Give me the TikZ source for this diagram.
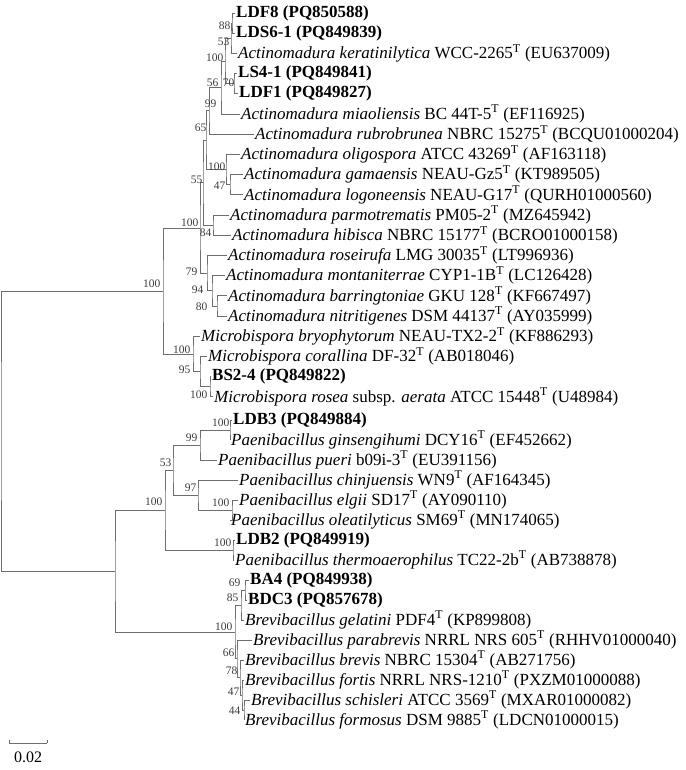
\documentclass[tikz,border=0pt]{standalone}
\usepackage{fontspec}
\setmainfont{Liberation Serif}
\newcommand\Ty{\textsuperscript{T}}
\begin{document}
\begin{tikzpicture}[x=1pt,y=-1pt,
  br/.style={draw={rgb,255:red,110;green,110;blue,110},line width=0.8pt},
  leaf/.style={anchor=west,inner sep=1pt,font=\fontsize{17}{19}\selectfont},
  lab/.style={anchor=east,inner sep=0.5pt,font=\fontsize{11.5}{13}\selectfont,text={rgb,255:red,60;green,60;blue,60}}]
\useasboundingbox (0,0) rectangle (685,770);
% top leaves
\foreach \n/\x/\y/\t in {
 1/235/13/{\textbf{LDF8 (PQ850588)}},
 2/235/33.2/{\textbf{LDS6-1 (PQ849839)}},
 3/237/53.4/{\emph{Actinomadura keratinilytica} WCC-2265\Ty{} (EU637009)},
 4/237/73.6/{\textbf{LS4-1 (PQ849841)}},
 5/238/93.8/{\textbf{LDF1 (PQ849827)}},
 6/240/114/{\emph{Actinomadura miaoliensis} BC 44T-5\Ty{} (EF116925)},
 7/254/134.2/{\emph{Actinomadura rubrobrunea} NBRC 15275\Ty{} (BCQU01000204)},
 8/240/154.4/{\emph{Actinomadura oligospora} ATCC 43269\Ty{} (AF163118)},
 9/243/174.6/{\emph{Actinomadura gamaensis} NEAU-Gz5\Ty{} (KT989505)},
 10/243/194.8/{\emph{Actinomadura logoneensis} NEAU-G17\Ty{} (QURH01000560)},
 11/229/215/{\emph{Actinomadura parmotrematis} PM05-2\Ty{} (MZ645942)},
 12/231/235.2/{\emph{Actinomadura hibisca} NBRC 15177\Ty{} (BCRO01000158)},
 13/227/255.4/{\emph{Actinomadura roseirufa} LMG 30035\Ty{} (LT996936)},
 14/225/275.6/{\emph{Actinomadura montaniterrae} CYP1-1B\Ty{} (LC126428)},
 15/227/295.8/{\emph{Actinomadura barringtoniae} GKU 128\Ty{} (KF667497)},
 16/227/316/{\emph{Actinomadura nitritigenes} DSM 44137\Ty{} (AY035999)},
 17/200/336.2/{\emph{Microbispora bryophytorum} NEAU-TX2-2\Ty{} (KF886293)},
 18/207/356.4/{\emph{Microbispora corallina} DF-32\Ty{} (AB018046)},
 19/211/376.6/{\textbf{BS2-4 (PQ849822)}},
 20/213/396.8/{\emph{Microbispora rosea} subsp. \emph{aerata} ATCC 15448\Ty{} (U48984)}}
 {\coordinate (t\n) at (\x,\y); \node[leaf] (tt\n) at (t\n) {\t};}
% bottom leaves
\foreach \n/\x/\y/\t in {
 1/232/420/{\textbf{LDB3 (PQ849884)}},
 2/230/440/{\emph{Paenibacillus ginsengihumi} DCY16\Ty{} (EF452662)},
 3/217/460/{\emph{Paenibacillus pueri} b09i-3\Ty{} (EU391156)},
 4/238/480/{\emph{Paenibacillus chinjuensis} WN9\Ty{} (AF164345)},
 5/238/500/{\emph{Paenibacillus elgii} SD17\Ty{} (AY090110)},
 6/230/520/{\emph{Paenibacillus oleatilyticus} SM69\Ty{} (MN174065)},
 7/235/540/{\textbf{LDB2 (PQ849919)}},
 8/234/560/{\emph{Paenibacillus thermoaerophilus} TC22-2b\Ty{} (AB738878)},
 9/249/580/{\textbf{BA4 (PQ849938)}},
 10/247/600/{\textbf{BDC3 (PQ857678)}},
 11/244/620/{\emph{Brevibacillus gelatini} PDF4\Ty{} (KP899808)},
 12/252/640/{\emph{Brevibacillus parabrevis} NRRL NRS 605\Ty{} (RHHV01000040)},
 13/244/660/{\emph{Brevibacillus brevis} NBRC 15304\Ty{} (AB271756)},
 14/244/680/{\emph{Brevibacillus fortis} NRRL NRS-1210\Ty{} (PXZM01000088)},
 15/250/700/{\emph{Brevibacillus schisleri} ATCC 3569\Ty{} (MXAR01000082)},
 16/244/720/{\emph{Brevibacillus formosus} DSM 9885\Ty{} (LDCN01000015)}}
 {\coordinate (b\n) at (\x,\y); \node[leaf] (bb\n) at (b\n) {\t};}
% internal nodes: name/x/y/child1/child2
\foreach \n/\x/\y/\a/\b in {
 A/232/23.1/t1/t2, B/231/38.2/A/t3, C/234/83.7/t4/t5, D/225/61/B/C,
 E/221/87.5/D/t6, F/209/110.9/E/t7, H/230/184.7/t9/t10, G/226/169.5/t8/H,
 I/206/140.2/F/G, K/213/225.1/t11/t12, J/203/182.7/I/K,
 O/217/305.9/t15/t16, N/212/290.7/t14/O, M/207/273/t13/N,
 L/200/227.9/J/M, S/210/386.7/t19/t20, R/200/371.5/t18/S, Q/193/353.9/t17/R,
 P/163/290.9/L/Q,
 Y/230/430/b1/b2, W/200/445/Y/b3, Z/232/510/b5/b6, X/198/495/b4/Z,
 V/173/470/W/X, AA/233/550/b7/b8, U/165/510/V/AA,
 AC/245/590/b9/b10, AD/241/605/AC/b11, AH/244/710/b15/b16, AG/242/695/b14/AH,
 AF/240/677.5/b13/AG, AE/237/658.75/b12/AF, AB/235/631.9/AD/AE,
 T/115/571/U/AB, root/1/431/P/T}
 {\coordinate (\n) at (\x,\y); \draw[br] (\a) -| (\n) |- (\b);}
% bootstrap values
\foreach \x/\y/\t in {231/26/88, 230/42/53, 224/58/100, 235/83/70, 219/83/56,
 217/104/99, 207/128/65, 226/167/100, 226/186/47, 203/180/55, 199/223/100,
 212/233/84, 198/272/79, 204/290/94, 208/307/80, 161/284/100, 191/350/100,
 191/370/95, 208/395/100,
 230/423/100, 198/438/99, 172/463/53, 197/488/97, 230/503/100, 163/502/100,
 232/543/100, 241/583/69, 239/598/85, 233/627/100, 235/653/66, 238/671/78,
 240/692/47, 241/711/44}
 {\node[lab] at (\x,\y) {\t};}
% scale bar
\coordinate (s1) at (9,743); \coordinate (s2) at (47,743);
\draw[br] (s1) -- (s2);
\draw[br] (s1) -- ++(0,-3); \draw[br] (s2) -- ++(0,-3);
\node[font=\fontsize{16}{18}\selectfont] (sl) at (28,757) {0.02};
\end{tikzpicture}
\end{document}
